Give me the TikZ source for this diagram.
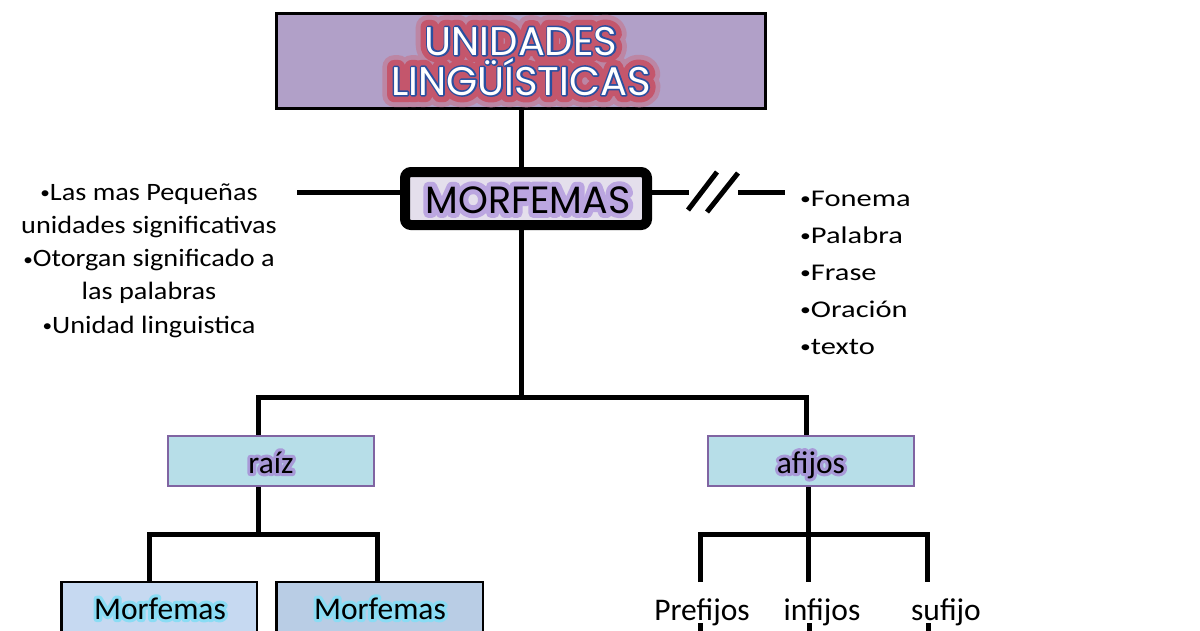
\documentclass[tikz,border=0pt]{standalone}
\usepackage{fontspec}
\setmainfont{Carlito}
\newfontfamily\ttlfont{Poppins}
\newfontfamily\ttlglowA[FakeBold=60]{Poppins}
\newfontfamily\ttlglowB[FakeBold=36]{Poppins}
\newfontfamily\ttlline[FakeBold=8]{Poppins}
\newfontfamily\mglow[FakeBold=26]{Poppins}
\newfontfamily\labglow[FakeBold=20]{Carlito}
\newfontfamily\leftfont[FakeStretch=1.13]{Carlito}
\newfontfamily\rightfont[FakeStretch=1.27]{Carlito}
\newcommand\bul{{\fontsize{17}{17}\selectfont\raisebox{1.5pt}{•}}}
\usetikzlibrary{calc}
\definecolor{titlefill}{HTML}{B1A0C8}
\definecolor{morffill}{HTML}{E4DFEC}
\definecolor{boxblue}{HTML}{B7DEE8}
\definecolor{boxpurple}{HTML}{8064A2}
\definecolor{mfillA}{HTML}{C6D9F1}
\definecolor{mfillB}{HTML}{B9CDE5}
\definecolor{outblue}{HTML}{2A4FA0}
\definecolor{glowred}{HTML}{C4566C}
\definecolor{glowsoft}{HTML}{BC86A4}
\definecolor{glowpurple}{HTML}{BBA6E0}
\definecolor{glowlab}{HTML}{A899D8}
\definecolor{glowcyan}{HTML}{8ADCF4}
\begin{document}
\begin{tikzpicture}[x=1pt,y=-1pt,
  conn/.style={draw=black,line width=5pt},
  titlebox/.style={draw=black,line width=3pt,fill=titlefill,minimum width=489pt,minimum height=95pt,inner sep=0pt},
  morfbox/.style={draw=black,line width=10pt,rounded corners=6pt,fill=morffill,minimum width=242pt,minimum height=53pt,inner sep=0pt},
  catbox/.style={draw=boxpurple,line width=2.5pt,fill=boxblue,minimum width=206pt,minimum height=50pt,inner sep=0pt},
  mbox/.style={draw=black,line width=2.5pt,minimum height=56pt,inner sep=0pt},
  ttl/.style={font=\ttlfont\fontsize{40}{44}\selectfont,anchor=base,inner sep=0pt,line join=round},
  mttl/.style={font=\ttlfont\fontsize{38}{42}\selectfont,anchor=base,inner sep=0pt,line join=round},
  body/.style={font=\leftfont\fontsize{25}{33}\selectfont,inner sep=0pt,anchor=base},
  list/.style={font=\rightfont\fontsize{24}{33}\selectfont,inner sep=0pt,anchor=base west},
  lab/.style={font=\fontsize{31.5}{36}\selectfont,inner sep=0pt,anchor=base,line join=round}]
\useasboundingbox (0,0) rectangle (1200,630);
\fill[white] (0,0) rectangle (1200,630);

% title box
\node[titlebox] (title) at (521,61) {};
\node[ttl,text=glowsoft,font=\ttlglowA\fontsize{40}{44}\selectfont] (t1s) at (521,55) {UNIDADES};
\node[ttl,text=glowsoft,font=\ttlglowA\fontsize{40}{44}\selectfont] (t2s) at (521,95) {LINGÜÍSTICAS};
\node[ttl,text=glowred,font=\ttlglowB\fontsize{40}{44}\selectfont] (t1g) at (521,55) {UNIDADES};
\node[ttl,text=glowred,font=\ttlglowB\fontsize{40}{44}\selectfont] (t2g) at (521,95) {LINGÜÍSTICAS};
\node[ttl,text=outblue,font=\ttlline\fontsize{40}{44}\selectfont] (t1o) at (521,55) {UNIDADES};
\node[ttl,text=white] (t1) at (521,55) {UNIDADES};
\node[ttl,text=outblue,font=\ttlline\fontsize{40}{44}\selectfont] (t2o) at (521,95) {LINGÜÍSTICAS};
\node[ttl,text=white] (t2) at (521,95) {LINGÜÍSTICAS};

% morfemas box
\node[morfbox] (morf) at (526,198.5) {};
\node[mttl,text=glowpurple,font=\mglow\fontsize{38}{42}\selectfont] (mg) at (528,213) {MORFEMAS};
\node[mttl,text=black] (mt) at (528,213) {MORFEMAS};

% left text
\foreach \t [count=\i] in {\bul Las mas Pequeñas,unidades significativas,\bul Otorgan significado a,las palabras,\bul Unidad linguistica}
  \node[body] (l\i) at (149,{200+33.3*(\i-1)}) {\t};
% right list
\foreach \t [count=\i] in {\bul Fonema,\bul Palabra,\bul Frase,\bul Oración,\bul texto}
  \node[list] (r\i) at (800,{206+37*(\i-1)}) {\t};

% category boxes
\node[catbox] (raiz) at (271,461) {};
\node[lab,text=glowlab,font=\labglow\fontsize{31.5}{36}\selectfont] (rg) at (271,473) {raíz};
\node[lab,text=black] (rt) at (271,473) {raíz};
\node[catbox] (afijos) at (811,461) {};
\node[lab,text=glowlab,font=\labglow\fontsize{31.5}{36}\selectfont] (ag) at (811,473) {afijos};
\node[lab,text=black] (at) at (811,473) {afijos};

% morfemas sub boxes
\node[mbox,fill=mfillA,minimum width=195.5pt] (mL) at (159,610) {};
\node[lab,text=glowcyan,font=\labglow\fontsize{31.5}{36}\selectfont] (mLg) at (160,619) {Morfemas};
\node[lab,text=black] (mLt) at (160,619) {Morfemas};
\node[mbox,fill=mfillB,minimum width=206.5pt] (mR) at (379.5,610) {};
\node[lab,text=glowcyan,font=\labglow\fontsize{31.5}{36}\selectfont] (mRg) at (380,619) {Morfemas};
\node[lab,text=black] (mRt) at (380,619) {Morfemas};

% affix labels
\node[lab] (pre) at (702,620) {Prefijos};
\node[lab] (inf) at (822,620) {infijos};
\node[lab] (suf) at (946,620) {sufijo};

% connectors
\coordinate (jt) at (521,397);
\coordinate (bl) at (258,397);
\coordinate (br) at (806,397);
\draw[conn] (title.south) -- (title.south |- morf.north);
\draw[conn] (morf.south -| title.south) -- (jt);
\draw[conn] (bl |- raiz.north) -- (bl) -- (br) -- (br |- afijos.north);

\coordinate (ll) at (297,192);
\draw[conn] (ll) -- (ll -| morf.west);
\coordinate (rb1) at (689,192);
\coordinate (rb2) at (738,192);
\coordinate (rr) at (785,192);
\draw[conn] (rb1 -| morf.east) -- (rb1);
\draw[conn] (rb2) -- (rr);
\draw[conn] (688,210) -- (717,172);
\draw[conn] (707,212) -- (738,173);

\coordinate (sl) at (149,534);
\coordinate (sr) at (377,534);
\draw[conn] (raiz.south -| bl) -- (bl |- sl);
\draw[conn] (mL.north -| sl) -- (sl) -- (sr) -- (mR.north -| sr);

\coordinate (al) at (700,534);
\coordinate (am) at (808,534);
\coordinate (ar) at (927,534);
\coordinate (al2) at (700,582);
\coordinate (am2) at (808,582);
\coordinate (ar2) at (927,582);
\draw[conn] (al2) -- (al) -- (ar) -- (ar2);
\draw[conn] (afijos.south -| am) -- (am2);

\coordinate (pb1) at (700,623);
\coordinate (pb2) at (700,640);
\coordinate (ib1) at (809,623);
\coordinate (ib2) at (809,640);
\coordinate (sb1) at (928,623);
\coordinate (sb2) at (928,640);
\draw[conn] (pb1) -- (pb2);
\draw[conn] (ib1) -- (ib2);
\draw[conn] (sb1) -- (sb2);
\end{tikzpicture}
\end{document}
